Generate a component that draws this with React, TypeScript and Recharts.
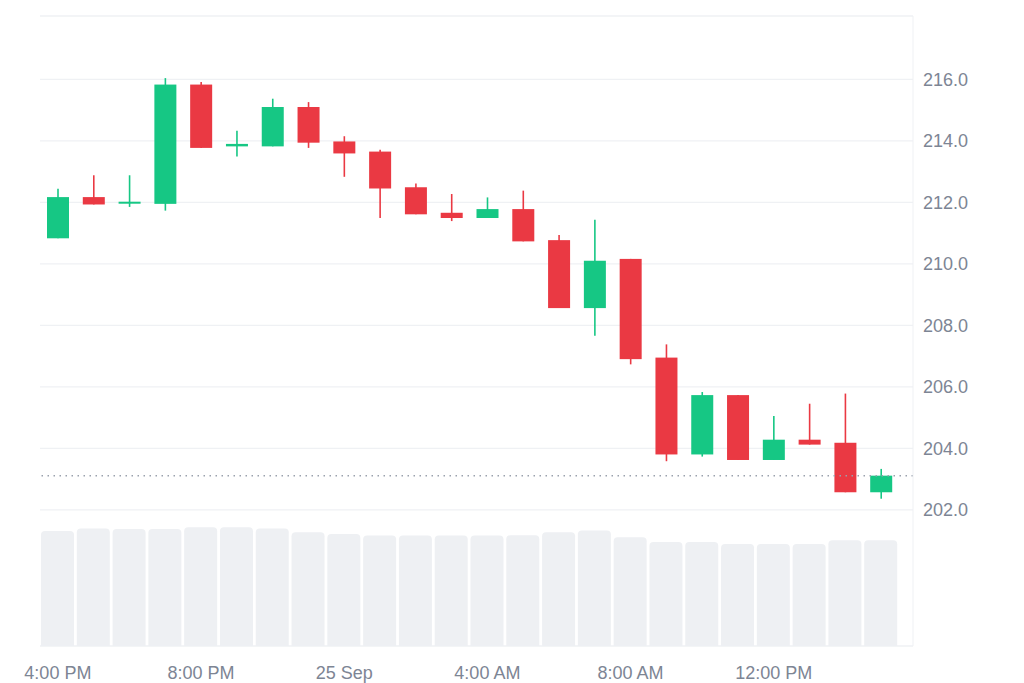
import React from "react"
import {
  ComposedChart,
  Bar,
  XAxis,
  YAxis,
  CartesianGrid,
  ReferenceLine,
} from "recharts"

const UP = "#16c784"
const DOWN = "#ea3943"
const GRID = "#eff1f4"
const TEXT = "#7d8594"

const times = [
  "4:00 PM", "5:00 PM", "6:00 PM", "7:00 PM", "8:00 PM", "9:00 PM", "10:00 PM", "11:00 PM",
  "25 Sep", "1:00 AM", "2:00 AM", "3:00 AM", "4:00 AM", "5:00 AM", "6:00 AM", "7:00 AM",
  "8:00 AM", "9:00 AM", "10:00 AM", "11:00 AM", "12:00 PM", "1:00 PM", "2:00 PM", "3:00 PM",
]

const opens = [
  210.83, 212.17, 211.96, 211.95, 215.83, 213.82, 213.82, 215.1,
  213.98, 213.65, 212.49, 211.66, 211.49, 211.78, 210.77, 208.56,
  210.16, 206.95, 203.8, 205.73, 203.62, 204.28, 204.18, 202.57,
]
const highs = [
  212.44, 212.88, 212.88, 216.04, 215.91, 214.33, 215.37, 215.26,
  214.15, 213.71, 212.61, 212.27, 212.16, 212.38, 210.94, 211.43,
  210.16, 207.38, 205.83, 205.73, 205.05, 205.45, 205.78, 203.33,
]
const lows = [
  210.83, 211.93, 211.85, 211.73, 213.77, 213.49, 213.82, 213.77,
  212.83, 211.49, 211.61, 211.39, 211.49, 210.73, 208.56, 207.66,
  206.73, 203.58, 203.73, 203.62, 203.62, 204.12, 202.57, 202.36,
]
const closes = [
  212.17, 211.93, 212.02, 215.83, 213.77, 213.9, 215.1, 213.94,
  213.59, 212.45, 211.61, 211.49, 211.78, 210.73, 208.56, 210.1,
  206.9, 203.8, 205.73, 203.62, 204.28, 204.12, 202.57, 203.11,
]
const volumes = [
  11.5, 11.75, 11.7, 11.7, 11.87, 11.87, 11.75, 11.37,
  11.2, 11.04, 11.04, 11.04, 11.04, 11.07, 11.37, 11.54,
  10.87, 10.4, 10.4, 10.2, 10.2, 10.2, 10.57, 10.57,
]

const priceTicks = [202, 204, 206, 208, 210, 212, 214, 216]
const PRICE_DOMAIN = [197.57, 218.06]
const VOLUME_DOMAIN = [0, 63]

const data = times.map((time, i) => ({
  time,
  open: opens[i],
  high: highs[i],
  low: lows[i],
  close: closes[i],
  volume: volumes[i],
}))

const lastClose = closes[closes.length - 1]

// bar spans [low, high]; open/close are placed inside it with the same scale
const Candle = (props: any) => {
  const { x, y, width, height, payload } = props
  const { open, close, high, low } = payload
  const toY = (v: number) => y + ((high - v) / (high - low)) * height
  const color = close >= open ? UP : DOWN
  const top = toY(Math.max(open, close))
  const bottom = toY(Math.min(open, close))
  const cx = x + width / 2
  return (
    <g>
      <line x1={cx} x2={cx} y1={y} y2={y + height} stroke={color} strokeWidth={1.6} />
      <rect x={x} y={top} width={width} height={Math.max(bottom - top, 2)} fill={color} />
    </g>
  )
}

const App = () => {
  return (
    <div style={{ width: 1024, height: 683, background: "#fff" }}>
      <style>{`body { margin: 0; }`}</style>
      <ComposedChart
        width={1024}
        height={683}
        data={data}
        margin={{ top: 16, right: 0, bottom: 0, left: 40 }}
        style={{ fontFamily: "'Liberation Sans', Arial, sans-serif" }}
      >
        <CartesianGrid yAxisId="price" vertical={false} stroke={GRID} strokeWidth={1.2} />
        <XAxis
          xAxisId="main"
          dataKey="time"
          interval={3}
          height={37}
          padding={{ left: 0, right: 14 }}
          tickLine={false}
          tickMargin={14}
          axisLine={{ stroke: GRID }}
          tick={{ fill: TEXT, fontSize: 18 }}
        />
        <XAxis xAxisId="vol" dataKey="time" hide padding={{ left: 0, right: 14 }} />
        <YAxis
          yAxisId="price"
          orientation="right"
          domain={PRICE_DOMAIN}
          ticks={priceTicks}
          width={111}
          tickLine={false}
          tickMargin={4}
          axisLine={{ stroke: GRID }}
          tickFormatter={(v: number) => v.toFixed(1)}
          tick={{ fill: TEXT, fontSize: 18 }}
        />
        <YAxis
          yAxisId="vol"
          orientation="left"
          domain={VOLUME_DOMAIN}
          width={0}
          tick={false}
          tickLine={false}
          axisLine={{ stroke: GRID }}
        />
        <ReferenceLine yAxisId="price" xAxisId="main" y={PRICE_DOMAIN[1]} stroke={GRID} />
        <Bar
          xAxisId="vol"
          yAxisId="vol"
          dataKey="volume"
          fill="#eef0f3"
          barSize={33}
          radius={[4, 4, 0, 0]}
          isAnimationActive={false}
        />
        <ReferenceLine
          yAxisId="price"
          xAxisId="main"
          y={lastClose}
          stroke="#9aa1ad"
          strokeDasharray="1.5 4.5"
          strokeWidth={1.5}
        />
        <Bar
          xAxisId="main"
          yAxisId="price"
          dataKey={(d: any) => [d.low, d.high]}
          barSize={22}
          shape={Candle}
          isAnimationActive={false}
        />
      </ComposedChart>
    </div>
  )
}

export default App
